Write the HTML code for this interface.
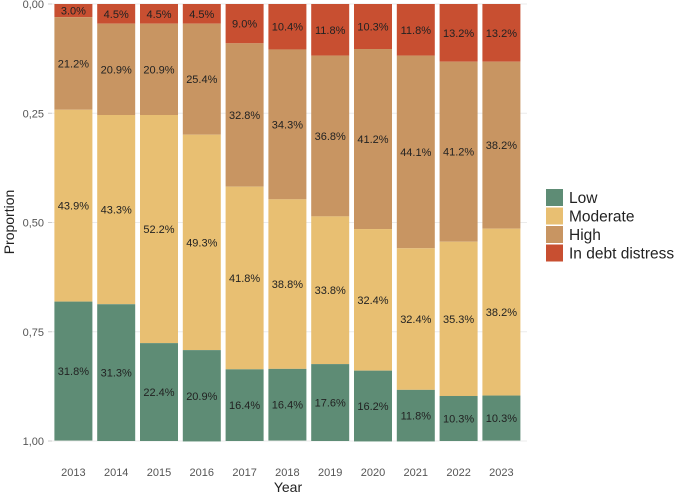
<!DOCTYPE html>
<html><head><meta charset="utf-8"><style>
body{margin:0;background:#fff;font-family:"Liberation Sans",sans-serif}
svg text{font-family:"Liberation Sans",sans-serif}
</style></head><body>
<svg id="c" width="685" height="495"></svg>
<script>
const years=["2013","2014","2015","2016","2017","2018","2019","2020","2021","2022","2023"];
const distress=[3.0,4.5,4.5,4.5,9.0,10.4,11.8,10.3,11.8,13.2,13.2];
const high=[21.2,20.9,20.9,25.4,32.8,34.3,36.8,41.2,44.1,41.2,38.2];
const moderate=[43.9,43.3,52.2,49.3,41.8,38.8,33.8,32.4,32.4,35.3,38.2];
const low=[31.8,31.3,22.4,20.9,16.4,16.4,17.6,16.2,11.8,10.3,10.3];
const yTicks=[0,0.25,0.5,0.75,1];
const yTickLabels=["0,00","0,25","0,50","0,75","1,00"];
const series=[["In debt distress",distress,"#c84f31"],["High",high,"#c89562"],["Moderate",moderate,"#e8bf72"],["Low",low,"#5e8c75"]];
const NS="http://www.w3.org/2000/svg",svgEl=document.getElementById('c');
const x0=52,step=42.8,bw=38,yTop=4,yBot=441;
const xc=i=>x0+step*(i+0.5);
const ys=v=>yTop+(yBot-yTop)*v;
function el(t,a,p){const e=document.createElementNS(NS,t);for(const k in a)e.setAttribute(k,a[k]);(p||svgEl).appendChild(e);return e;}
yTicks.forEach((t,i)=>{
 const g=el('line',{x1:52,x2:527,y1:ys(t),y2:ys(t),stroke:'#ebebeb','stroke-width':1});
 
 
 const tk=el('line',{x1:48,x2:52,y1:ys(t),y2:ys(t),stroke:'#ccc'});
 
 
 const tx=el('text',{x:44,y:ys(t)+4,'text-anchor':'end','font-size':11,fill:'#555'});
 tx.textContent=yTickLabels[i];
 
 
});
years.forEach((yr,i)=>{
 let acc=0;
 series.forEach(s=>{
  const v=s[1][i]/100;
  const r=el('rect',{x:xc(i)-bw/2,y:ys(acc),width:bw,height:ys(acc+v)-ys(acc),fill:s[2]});
  
  
  const t=el('text',{x:xc(i),y:ys(acc+v/2)+4,'text-anchor':'middle','font-size':11,fill:'#222'});
  t.textContent=s[1][i].toFixed(1)+'%';
  
  
  acc+=v;
 });
 const xt=el('text',{x:xc(i),y:476,'text-anchor':'middle','font-size':11,fill:'#555'});
 xt.textContent=yr;
 
 
});
const yt=el('text',{x:0,y:0,transform:'translate(14,222) rotate(-90)','text-anchor':'middle','font-size':14,fill:'#222'});
yt.textContent='Proportion';


const xTitle=el('text',{x:288,y:492,'text-anchor':'middle','font-size':14,fill:'#222'});
xTitle.textContent='Year';


const leg=[["Low","#5e8c75"],["Moderate","#e8bf72"],["High","#c89562"],["In debt distress","#c84f31"]];
leg.forEach((l,i)=>{
 const ly=189+i*18.5;
 const k=el('rect',{x:546,y:ly,width:17,height:17,fill:l[1]});
 
 
 const t=el('text',{x:569,y:ly+14,'font-size':15.5,fill:'#222'});
 t.textContent=l[0];
 
 
});
</script>
</body></html>
